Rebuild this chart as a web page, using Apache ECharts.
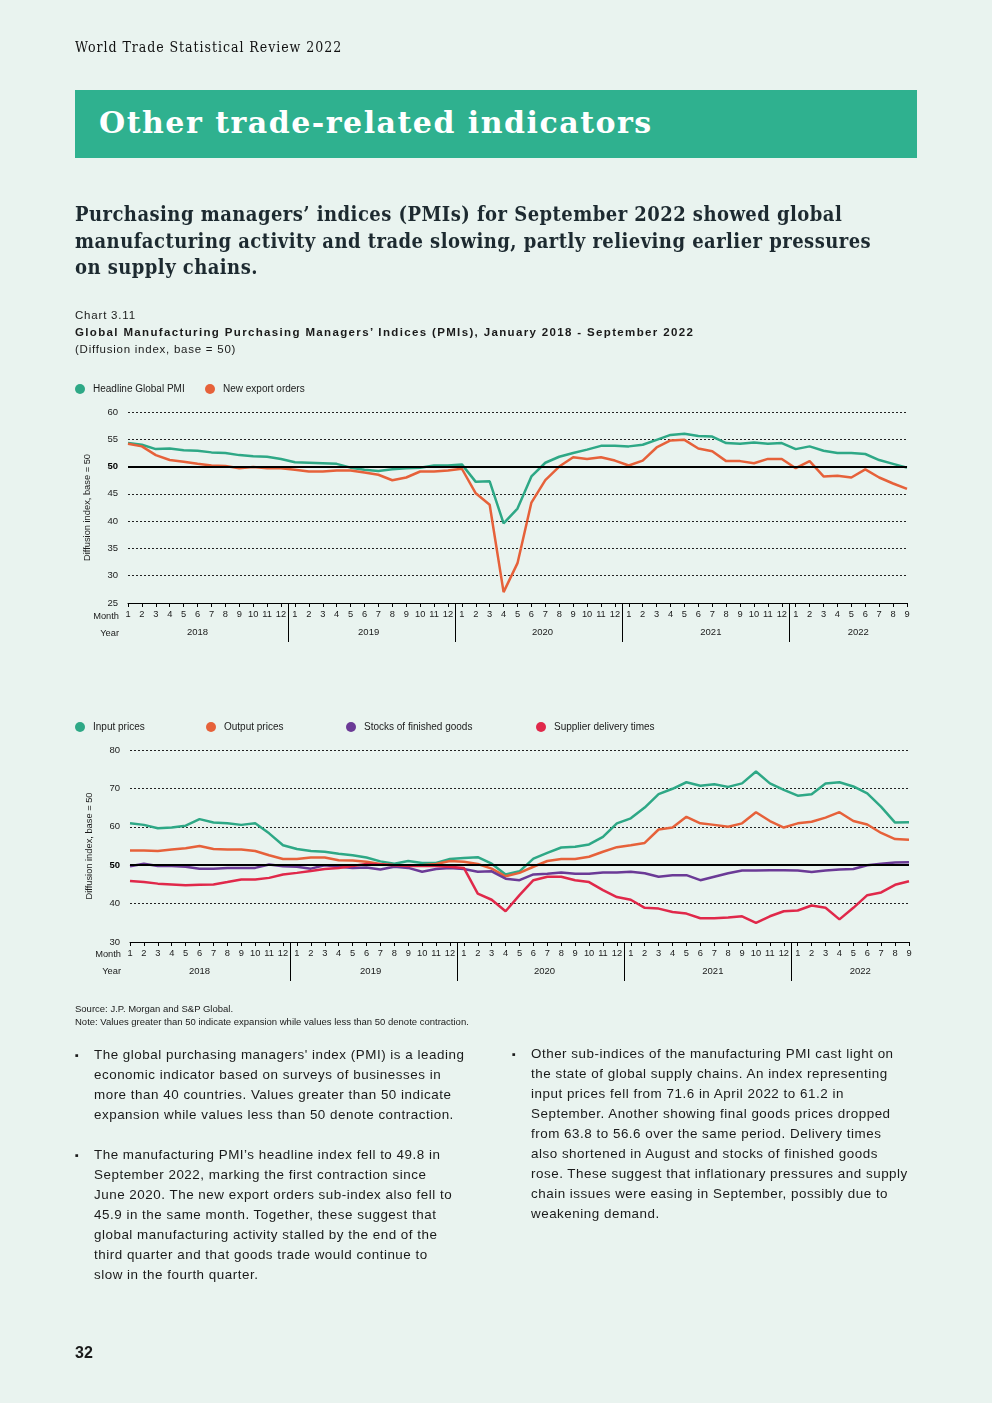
<!DOCTYPE html>
<html>
<head>
<meta charset="utf-8">
<script src="https://cdn.jsdelivr.net/npm/echarts@6/dist/echarts.min.js"></script>
<style>
  html, body { margin:0; padding:0; }
  body { width:992px; height:1403px; background:#e9f3ef; position:relative; overflow:hidden; font-family:"Liberation Sans", Arial, sans-serif; color:#1a1a1a; }
  #chart { position:absolute; left:0; top:0; width:992px; height:1403px; }
  .t { position:absolute; white-space:nowrap; }
  .band { position:absolute; left:75px; top:90px; width:842px; height:68px; background:#2fb18f; }
  .band span { position:absolute; left:24px; top:0; line-height:66px; font-family:"DejaVu Serif", serif; font-weight:bold; font-size:30px; letter-spacing:1.5px; color:#fff; }
  .body { font-size:13.4px; line-height:20px; letter-spacing:0.52px; color:#1a1a1a; }
  .bullet { position:absolute; font-size:11px; line-height:20px; }
  .ax { font-size:9.3px; line-height:12px; text-align:right; width:60px; }
</style>
</head>
<body>
<div id="chart"></div>

<div class="t" style="left:75px;top:39px;font-family:'DejaVu Serif Condensed','DejaVu Serif',serif;font-size:14px;line-height:16px;letter-spacing:0.95px;color:#111;">World Trade Statistical Review 2022</div>

<div class="band"><span>Other trade-related indicators</span></div>

<div class="t" style="left:75px;top:201px;font-family:'DejaVu Serif Condensed','DejaVu Serif',serif;font-weight:bold;font-size:20px;line-height:26.5px;letter-spacing:0.45px;color:#1d2a30;">Purchasing managers’ indices (PMIs) for September 2022 showed global<br>manufacturing activity and trade slowing, partly relieving earlier pressures<br>on supply chains.</div>

<div class="t" style="left:75px;top:308px;font-size:11.5px;line-height:14px;letter-spacing:0.8px;">Chart 3.11</div>
<div class="t" style="left:75px;top:325px;font-size:11.5px;line-height:14px;font-weight:bold;letter-spacing:1.35px;">Global Manufacturing Purchasing Managers’ Indices (PMIs), January 2018 - September 2022</div>
<div class="t" style="left:75px;top:342px;font-size:11.5px;line-height:14px;letter-spacing:0.75px;">(Diffusion index, base = 50)</div>

<div class="t ax" style="left:59px;top:610px;">Month</div>
<div class="t ax" style="left:59px;top:627px;">Year</div>
<div class="t ax" style="left:61px;top:948px;">Month</div>
<div class="t ax" style="left:61px;top:965px;">Year</div>

<div class="t" style="left:75px;top:1002px;font-size:9.5px;line-height:13px;letter-spacing:0px;">Source: J.P. Morgan and S&amp;P Global.<br>Note: Values greater than 50 indicate expansion while values less than 50 denote contraction.</div>

<div class="bullet" style="left:75px;top:1045px;">▪</div>
<div class="t body" style="left:94px;top:1045px;">The global purchasing managers' index (PMI) is a leading<br>economic indicator based on surveys of businesses in<br>more than 40 countries. Values greater than 50 indicate<br>expansion while values less than 50 denote contraction.</div>

<div class="bullet" style="left:75px;top:1145px;">▪</div>
<div class="t body" style="left:94px;top:1145px;">The manufacturing PMI’s headline index fell to 49.8 in<br>September 2022, marking the first contraction since<br>June 2020. The new export orders sub-index also fell to<br>45.9 in the same month. Together, these suggest that<br>global manufacturing activity stalled by the end of the<br>third quarter and that goods trade would continue to<br>slow in the fourth quarter.</div>

<div class="bullet" style="left:512px;top:1044px;">▪</div>
<div class="t body" style="left:531px;top:1044px;">Other sub-indices of the manufacturing PMI cast light on<br>the state of global supply chains. An index representing<br>input prices fell from 71.6 in April 2022 to 61.2 in<br>September. Another showing final goods prices dropped<br>from 63.8 to 56.6 over the same period. Delivery times<br>also shortened in August and stocks of finished goods<br>rose. These suggest that inflationary pressures and supply<br>chain issues were easing in September, possibly due to<br>weakening demand.</div>

<div class="t" style="left:75px;top:1343px;font-size:16px;line-height:20px;font-weight:bold;">32</div>

<script>
// ---- categories ----
const years = ['2018', '2019', '2020', '2021', '2022'];
const monthsInYear = [12, 12, 12, 12, 9];
const yearLabelPos = [5.0, 17.3, 29.8, 41.9, 52.5];
const yearSeparators = [11.5, 23.5, 35.5, 47.5];

// ---- chart 1: headline PMI and new export orders ----
const headlinePMI = [
  54.3, 54.0, 53.2, 53.3, 53.0, 52.9, 52.6, 52.5, 52.1, 51.9, 51.8, 51.4,
  50.8, 50.7, 50.6, 50.5, 49.8, 49.4, 49.2, 49.5, 49.7, 49.8, 50.2, 50.2,
  50.4, 47.2, 47.3, 39.6, 42.3, 48.2, 50.7, 51.8, 52.5, 53.1, 53.8, 53.8,
  53.7, 54.0, 54.9, 55.8, 56.0, 55.6, 55.5, 54.3, 54.2, 54.4, 54.2, 54.3,
  53.2, 53.7, 52.9, 52.5, 52.5, 52.3, 51.2, 50.5, 49.8
];
const newExportOrders = [
  54.2, 53.7, 52.1, 51.2, 50.9, 50.5, 50.2, 50.1, 49.7, 49.9, 49.7, 49.7,
  49.4, 49.1, 49.1, 49.3, 49.3, 48.9, 48.5, 47.5, 48.0, 49.1, 49.1, 49.3,
  49.6, 45.1, 43.0, 27.0, 32.3, 43.4, 47.5, 50.0, 51.7, 51.4, 51.7, 51.1,
  50.2, 51.1, 53.5, 54.8, 54.9, 53.3, 52.8, 51.0, 51.0, 50.6, 51.4, 51.4,
  49.7, 51.0, 48.2, 48.3, 48.0, 49.5, 48.0, 46.9, 45.9
];

// ---- chart 2: sub-indices ----
const inputPrices = [
  60.9, 60.5, 59.6, 59.8, 60.3, 62.0, 61.1, 60.9, 60.5, 60.9, 58.3, 55.2,
  54.2, 53.7, 53.5, 53.0, 52.6, 52.0, 51.0, 50.4, 51.1, 50.6, 50.6, 51.6,
  51.9, 52.1, 50.4, 47.6, 48.4, 51.7, 53.2, 54.6, 54.8, 55.4, 57.4, 60.9,
  62.2, 65.0, 68.5, 69.9, 71.6, 70.7, 71.1, 70.4, 71.3, 74.4, 71.3, 69.6,
  68.1, 68.5, 71.3, 71.6, 70.5, 68.7, 65.2, 61.1, 61.2
];
const outputPrices = [
  53.8, 53.8, 53.7, 54.1, 54.4, 55.0, 54.2, 54.1, 54.1, 53.7, 52.6, 51.6,
  51.6, 52.0, 52.0, 51.3, 51.2, 50.9, 50.3, 50.0, 50.0, 50.0, 50.3, 51.1,
  50.9, 50.3, 49.1, 47.1, 48.0, 49.6, 51.1, 51.6, 51.6, 52.2, 53.5, 54.7,
  55.2, 55.8, 59.3, 59.8, 62.6, 60.9, 60.5, 60.0, 60.9, 63.8, 61.5, 59.8,
  60.9, 61.3, 62.4, 63.8, 61.5, 60.6, 58.4, 56.8, 56.6
];
const stocksFinished = [
  49.7, 50.4, 49.8, 49.8, 49.6, 49.1, 49.1, 49.3, 49.3, 49.3, 50.2, 49.7,
  49.6, 49.1, 50.0, 49.6, 49.3, 49.4, 48.9, 49.6, 49.3, 48.3, 49.0, 49.3,
  49.0, 48.3, 48.4, 46.5, 46.1, 47.6, 47.8, 48.1, 47.8, 47.8, 48.1, 48.1,
  48.3, 47.9, 47.0, 47.4, 47.4, 46.1, 47.0, 47.9, 48.6, 48.6, 48.7, 48.7,
  48.6, 48.2, 48.6, 48.9, 49.0, 50.0, 50.4, 50.7, 50.8
];
const deliveryTimes = [
  45.9, 45.6, 45.2, 45.0, 44.8, 44.9, 45.0, 45.6, 46.3, 46.3, 46.7, 47.6,
  48.0, 48.5, 49.0, 49.3, 49.8, 50.3, 50.2, 50.0, 49.8, 49.8, 49.8, 49.6,
  49.3, 42.6, 41.0, 38.0, 42.2, 46.1, 47.0, 47.0, 46.1, 45.6, 43.5, 41.7,
  41.0, 38.9, 38.7, 37.8, 37.4, 36.2, 36.2, 36.4, 36.7, 35.0, 36.7, 38.0,
  38.2, 39.5, 38.9, 35.9, 38.9, 42.2, 42.9, 44.9, 45.8
];

const categories = [];
years.forEach((y, i) => { for (let m = 1; m <= monthsInYear[i]; m++) categories.push(y + '-' + m); });

const C_GREEN = '#2ea886', C_ORANGE = '#e6613a', C_PURPLE = '#6b3a96', C_RED = '#e0284a';
const FONT = '"Liberation Sans", Arial, sans-serif';
const TXT = '#1a1a1a';

function monthAxis(gridIndex) {
  return {
    type: 'category', gridIndex, data: categories, boundaryGap: false,
    axisLine: { show: true, lineStyle: { color: '#000', width: 1 } },
    axisTick: { show: true, interval: 0, length: 4, lineStyle: { color: '#000' } },
    axisLabel: { interval: 0, margin: 7, fontSize: 9.3, color: TXT, fontFamily: FONT,
      formatter: v => v.split('-')[1] },
    splitLine: { show: false }
  };
}
function yearAxis(gridIndex) {
  return {
    type: 'value', gridIndex, min: 0, max: categories.length - 1, position: 'bottom',
    axisLine: { show: false },
    axisTick: { show: true, customValues: yearSeparators, length: 39, lineStyle: { color: '#000', width: 1 } },
    axisLabel: { show: true, customValues: yearLabelPos, margin: 24, fontSize: 9.5, color: TXT, fontFamily: FONT,
      formatter: v => years[yearLabelPos.indexOf(v)] || '' },
    splitLine: { show: false }
  };
}
function valueAxis(gridIndex, min, max, interval) {
  return {
    type: 'value', gridIndex, min, max, interval,
    name: 'Diffusion index, base = 50', nameLocation: 'middle', nameRotate: 90, nameGap: 36,
    nameTextStyle: { fontSize: 9.3, color: TXT, fontFamily: FONT },
    axisLine: { show: false }, axisTick: { show: false },
    axisLabel: { margin: 10, fontSize: 9.5, color: TXT, fontFamily: FONT,
      formatter: v => v === 50 ? '{b|50}' : String(v),
      rich: { b: { fontWeight: 'bold', fontSize: 9.5, color: '#000', fontFamily: FONT } } },
    splitLine: { show: true, lineStyle: { color: '#222', width: 1, type: [2, 2] } }
  };
}
const baseLine = {
  silent: true, symbol: ['none', 'none'], label: { show: false },
  lineStyle: { color: '#000', width: 2, type: 'solid' }, data: [{ yAxis: 50 }]
};
function lineSeries(name, data, color, xi, yi, withBase) {
  const s = { name, type: 'line', data, xAxisIndex: xi, yAxisIndex: yi, showSymbol: false, symbol: 'circle',
    smooth: false, lineStyle: { color, width: 2.5 }, itemStyle: { color }, animation: false };
  if (withBase) s.markLine = baseLine;
  return s;
}
function legendItem(name, iconCenterX, centerY) {
  return { left: iconCenterX - 5, top: centerY - 4, padding: 0, itemWidth: 10, itemHeight: 10, icon: 'circle',
    textStyle: { fontSize: 10, color: TXT, fontFamily: FONT, padding: [0, 0, 0, 3] }, data: [name] };
}

const chart = echarts.init(document.getElementById('chart'), null, { renderer: 'canvas' });
chart.setOption({
  animation: false,
  textStyle: { fontFamily: FONT },
  grid: [
    { left: 128, top: 412, width: 779, height: 191, containLabel: false, outerBoundsMode: 'none' },
    { left: 130, top: 750, width: 779, height: 192, containLabel: false, outerBoundsMode: 'none' }
  ],
  legend: [
    legendItem('Headline Global PMI', 80, 388),
    legendItem('New export orders', 210, 388),
    legendItem('Input prices', 80, 726),
    legendItem('Output prices', 211, 726),
    legendItem('Stocks of finished goods', 351, 726),
    legendItem('Supplier delivery times', 541, 726)
  ],
  xAxis: [monthAxis(0), yearAxis(0), monthAxis(1), yearAxis(1)],
  yAxis: [valueAxis(0, 25, 60, 5), valueAxis(1, 30, 80, 10)],
  series: [
    lineSeries('Headline Global PMI', headlinePMI, C_GREEN, 0, 0, true),
    lineSeries('New export orders', newExportOrders, C_ORANGE, 0, 0, false),
    lineSeries('Input prices', inputPrices, C_GREEN, 2, 1, true),
    lineSeries('Output prices', outputPrices, C_ORANGE, 2, 1, false),
    lineSeries('Stocks of finished goods', stocksFinished, C_PURPLE, 2, 1, false),
    lineSeries('Supplier delivery times', deliveryTimes, C_RED, 2, 1, false)
  ]
});
</script>
</body>
</html>
